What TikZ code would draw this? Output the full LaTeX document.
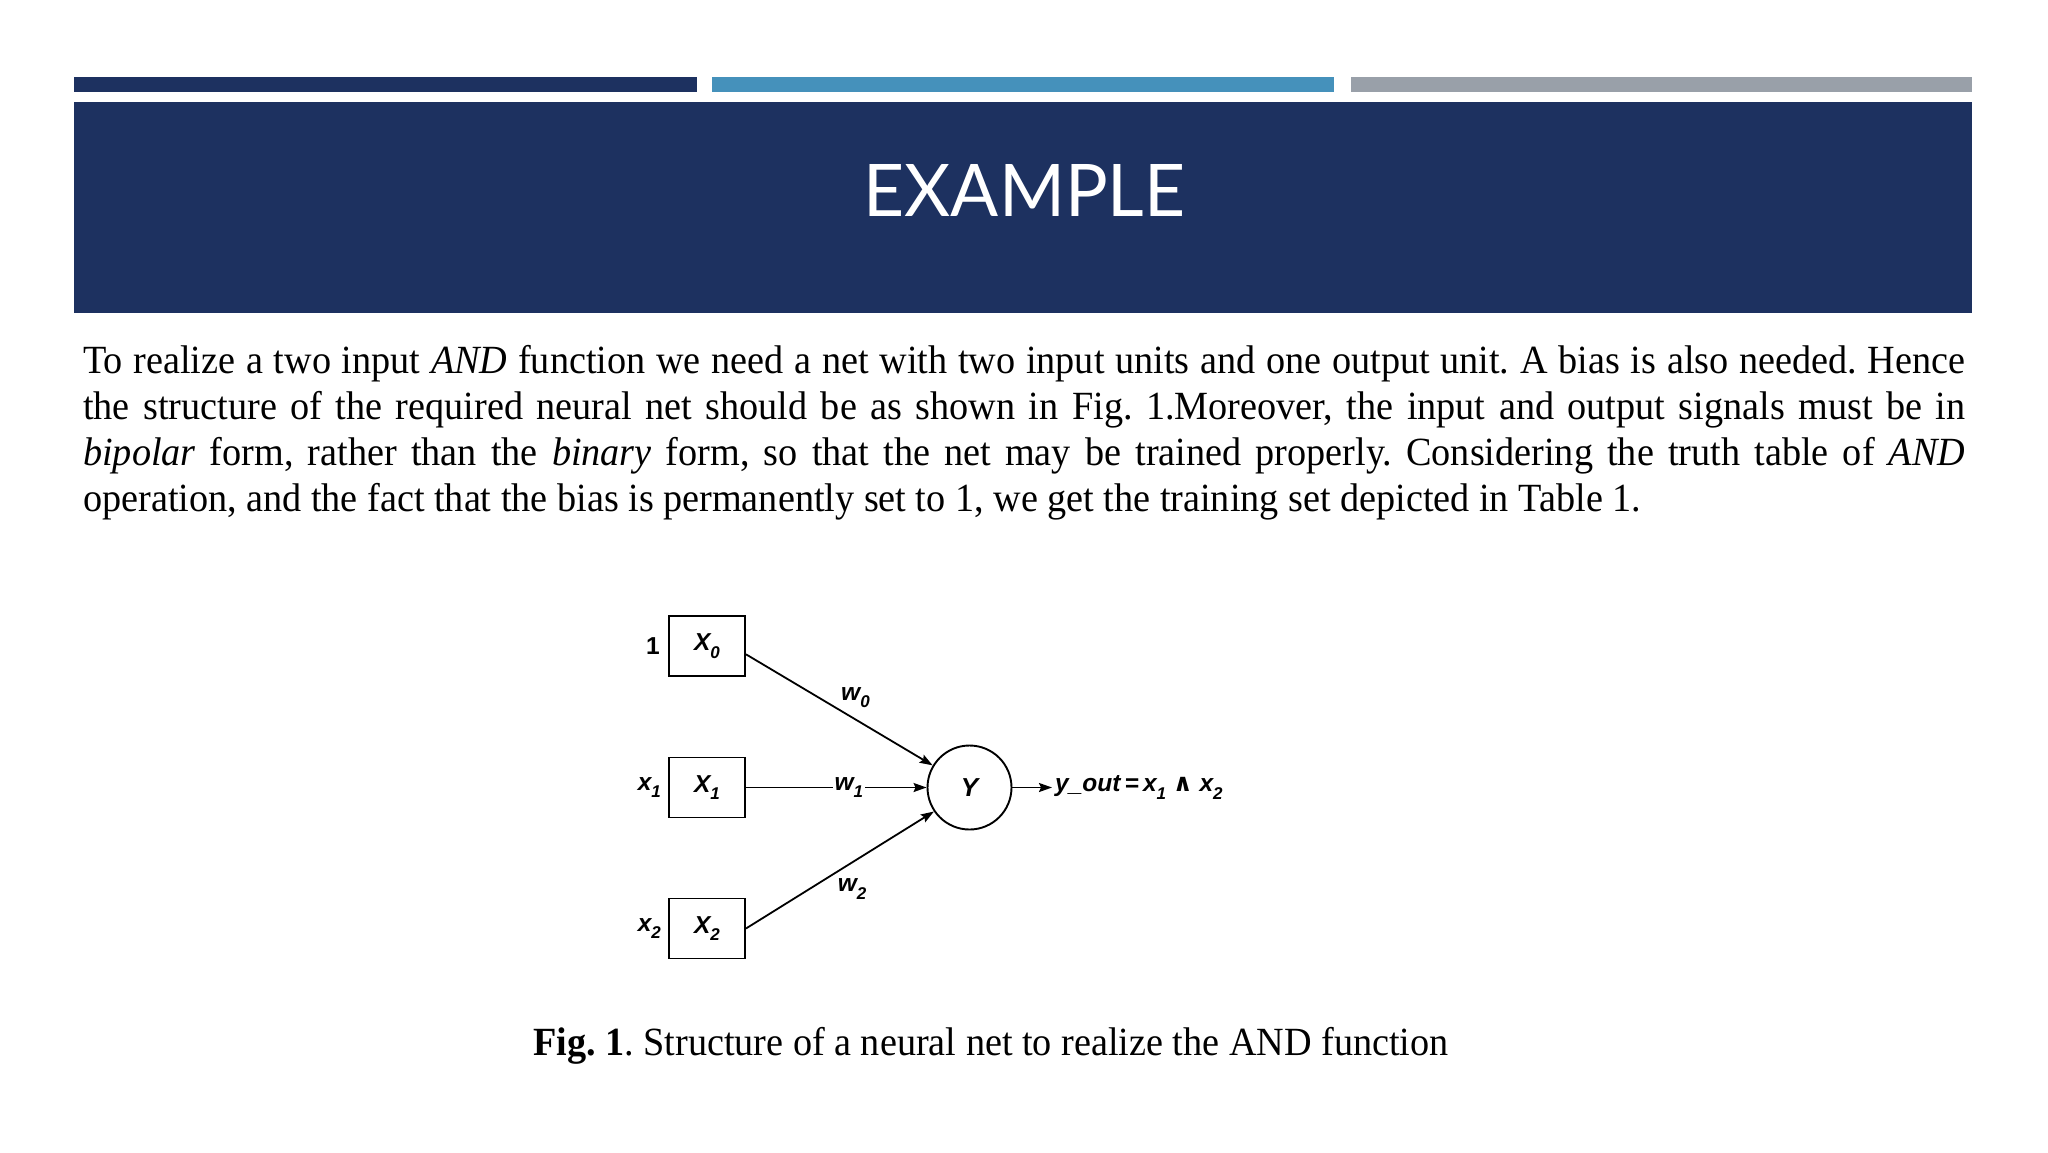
\documentclass[tikz,border=0pt]{standalone}
\usepackage{fontspec}
\setmainfont[FakeStretch=0.955]{Liberation Serif}
\newfontfamily\titlefont[FakeStretch=0.98]{Lato}
\newfontfamily\diagfont{Liberation Sans}
\newfontfamily\symfont{DejaVu Sans}
\usetikzlibrary{arrows.meta,positioning}
\definecolor{navy}{HTML}{1D3160}
\definecolor{barblue}{HTML}{4591BB}
\definecolor{bargray}{HTML}{99A0A9}
\newcommand\sub[1]{\raisebox{-0.3em}{\fontsize{17}{17}\selectfont #1}}
\frenchspacing
\begin{document}
\begin{tikzpicture}[x=1pt,y=-1pt,
  bodyline/.style={inner sep=0pt, font=\fontsize{40}{46}\selectfont},
  lab/.style={inner sep=0pt, font=\diagfont\bfseries\itshape\fontsize{24.5}{24.5}\selectfont},
  unitbox/.style={draw, line width=1.9pt, minimum width=76pt, minimum height=60pt, inner sep=0pt, lab},
  neuron/.style={draw, circle, line width=1.9pt, minimum size=84pt, inner sep=0pt, lab},
  conn/.style={line width=1.8pt, -{Stealth[length=13pt,width=9pt,inset=2pt]}}]
\useasboundingbox[fill=white] (0,0) rectangle (2048,1152);
% header bars
\fill[navy] (74,77) rectangle (697,92);
\fill[barblue] (712,77) rectangle (1334,92);
\fill[bargray] (1351,77) rectangle (1972,92);
\fill[navy] (74,102) rectangle (1972,313);
\node[anchor=base, inner sep=0pt, text=white, font=\titlefont\fontsize{72.6}{72.6}\selectfont] (title) at (1024.5,216) {EXAMPLE};
% body text
\node[bodyline, anchor=base west] (l1) at (83,373) {\hbox to 1882pt{To realize a two input \textit{AND} function we need a net with two input units and one output unit. A bias is also needed. Hence}};
\node[bodyline, anchor=base west] (l2) at (83,419) {\hbox to 1882pt{the structure of the required neural net should be as shown in Fig. 1.Moreover, the input and output signals must be in}};
\node[bodyline, anchor=base west] (l3) at (83,465) {\hbox to 1882pt{\textit{bipolar} form, rather than the \textit{binary} form, so that the net may be trained properly. Considering the truth table of \textit{AND}}};
\node[bodyline, anchor=base west] (l4) at (83,511) {operation, and the fact that the bias is permanently set to 1, we get the training set depicted in Table 1.};
% diagram
\node[unitbox] (x0) at (707,646) {X\sub{0}};
\node[unitbox] (x1) at (707,787.5) {X\sub{1}};
\node[unitbox] (x2) at (707,928.5) {X\sub{2}};
\node[neuron, font=\diagfont\bfseries\itshape\fontsize{26}{26}\selectfont] (y) at (969.5,787.5) {Y};
\node[lab, left=8pt of x0, font=\diagfont\bfseries\fontsize{24.5}{24.5}\selectfont] (in0) {1};
\node[lab, left=7pt of x1] (in1) {x\sub{1}};
\node[lab, left=7pt of x2] (in2) {x\sub{2}};
\draw[conn] (x0.-12) -- (y.149) node[lab, pos=0.5, anchor=south west, inner sep=1pt] (w0) {w\sub{0}};
\draw[conn] (x1.east) -- (y.west) node[lab, pos=0.57, fill=white, inner sep=1.5pt] (w1) {w\sub{1}};
\draw[conn] (x2.east) -- (y.214) node[lab, pos=0.5, anchor=north west, shift={(-3,8)}] (w2) {w\sub{2}};
\node[lab, anchor=west, inner sep=3pt] (out) at (1052,787.5) {y\_out\,=\,x\sub{1} {\symfont\upshape ∧} x\sub{2}};
\draw[conn] (y.east) -- (out.west);
% caption
\node[bodyline, anchor=base west] (cap) at (533,1055) {\textbf{Fig. 1}. Structure of a neural net to realize the AND function};
\end{tikzpicture}
\end{document}
